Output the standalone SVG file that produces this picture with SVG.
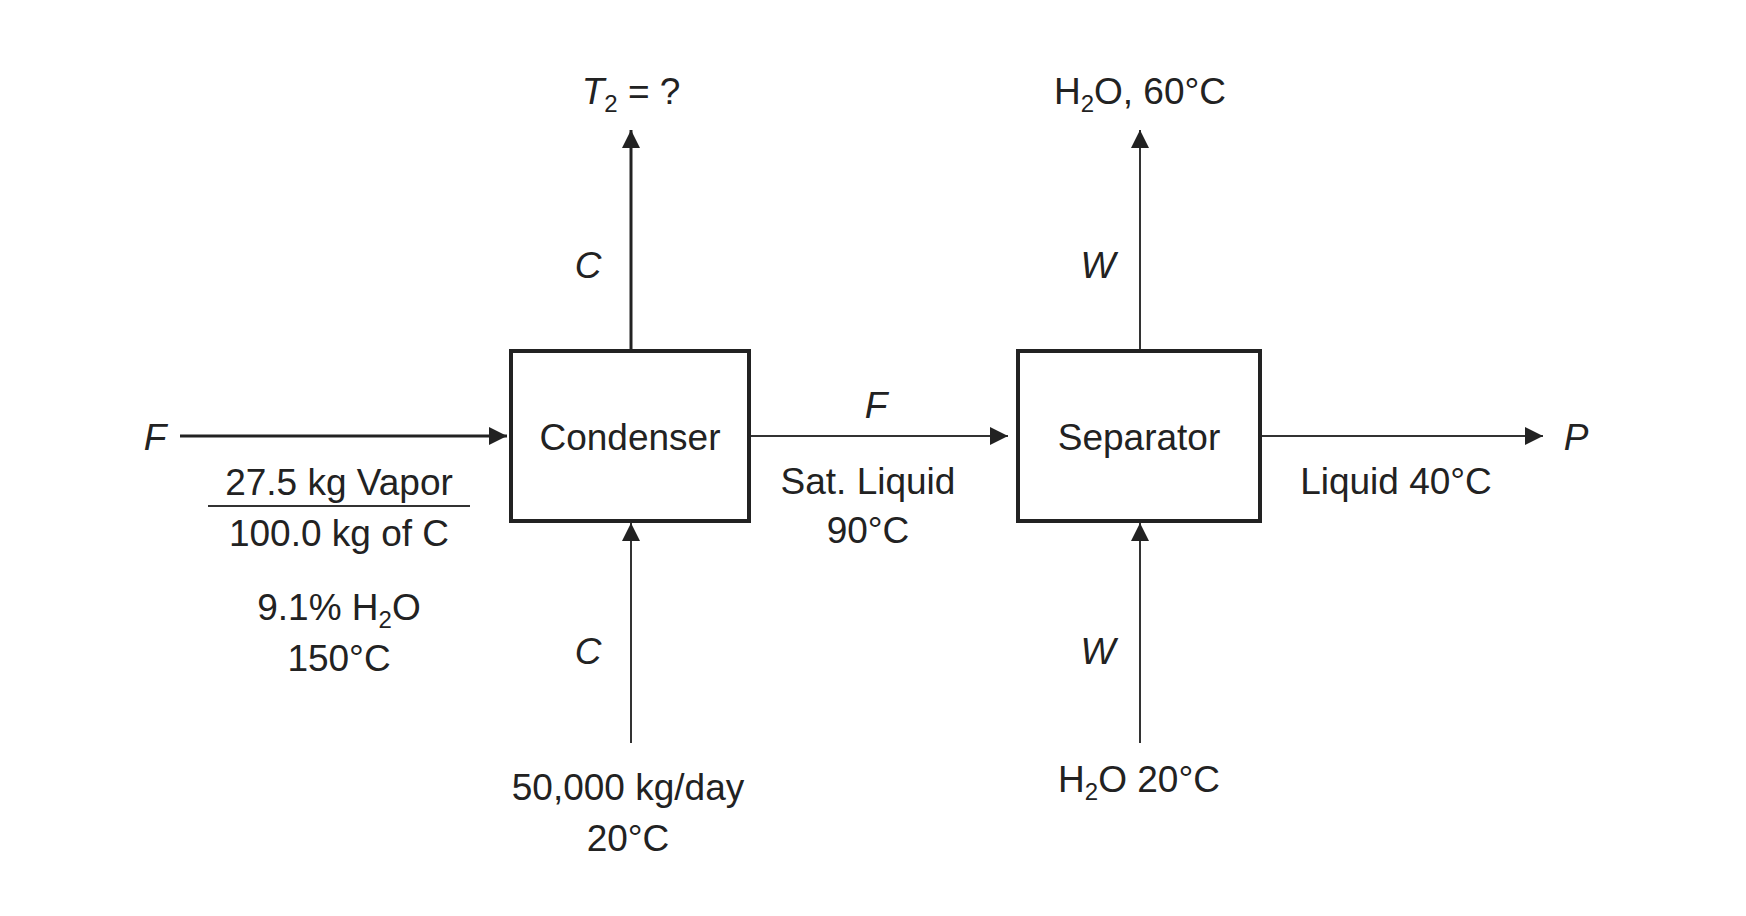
<svg xmlns="http://www.w3.org/2000/svg" width="1746" height="916" viewBox="0 0 1746 916">
<style>
text{font-family:"Liberation Sans",Arial,sans-serif;font-size:37px;fill:#222;text-anchor:middle}
.i{font-style:italic}
.box{fill:#fff;stroke:#222;stroke-width:4}
.ln{stroke:#222;stroke-width:3;fill:none}
.thin{stroke:#333;stroke-width:2;fill:none}
</style>
<defs>
<marker id="ah" viewBox="0 0 10 10" refX="10" refY="5" markerWidth="30" markerHeight="18" markerUnits="userSpaceOnUse" orient="auto"><path d="M0,0 L10,5 L0,10 z" fill="#222"/></marker>
</defs>
<rect width="1746" height="916" fill="#fff"/>
<g id="connectors">
<line class="ln" x1="180" y1="436" x2="507" y2="436" marker-end="url(#ah)"/>
<line class="thin" x1="749" y1="436" x2="1008" y2="436" marker-end="url(#ah)"/>
<line class="thin" x1="1260" y1="436" x2="1543" y2="436" marker-end="url(#ah)"/>
<line class="ln" x1="631" y1="350" x2="631" y2="130" marker-end="url(#ah)"/>
<line class="thin" x1="631" y1="743" x2="631" y2="523" marker-end="url(#ah)"/>
<line class="thin" x1="1140" y1="350" x2="1140" y2="130" marker-end="url(#ah)"/>
<line class="thin" x1="1140" y1="743" x2="1140" y2="523" marker-end="url(#ah)"/>
<line class="thin" x1="208" y1="506" x2="470" y2="506"/>
</g>
<g id="condenser"><rect class="box" x="511" y="351" width="238" height="170"/><text x="630" y="450">Condenser</text></g>
<g id="separator"><rect class="box" x="1018" y="351" width="242" height="170"/><text x="1139" y="450">Separator</text></g>
<g id="labels">
<text class="i" x="155" y="450">F</text>
<text class="i" x="876" y="418">F</text>
<text class="i" x="1576" y="450">P</text>
<text x="631" y="104"><tspan class="i">T</tspan><tspan font-size="24" dy="8">2</tspan><tspan dy="-8"> = ?</tspan></text>
<text x="1140" y="104">H<tspan font-size="24" dy="8">2</tspan><tspan dy="-8">O, 60°C</tspan></text>
<text class="i" x="588" y="278">C</text>
<text class="i" x="588" y="664">C</text>
<text class="i" x="1098" y="278">W</text>
<text class="i" x="1098" y="664">W</text>
<text x="628" y="800">50,000 kg/day</text>
<text x="628" y="851">20°C</text>
<text x="1139" y="792">H<tspan font-size="24" dy="8">2</tspan><tspan dy="-8">O 20°C</tspan></text>
<text x="339" y="495">27.5 kg Vapor</text>
<text x="339" y="546">100.0 kg of C</text>
<text x="339" y="620">9.1% H<tspan font-size="24" dy="8">2</tspan><tspan dy="-8">O</tspan></text>
<text x="339" y="671">150°C</text>
<text x="868" y="494">Sat. Liquid</text>
<text x="868" y="543">90°C</text>
<text x="1396" y="494">Liquid 40°C</text>
</g>
</svg>
